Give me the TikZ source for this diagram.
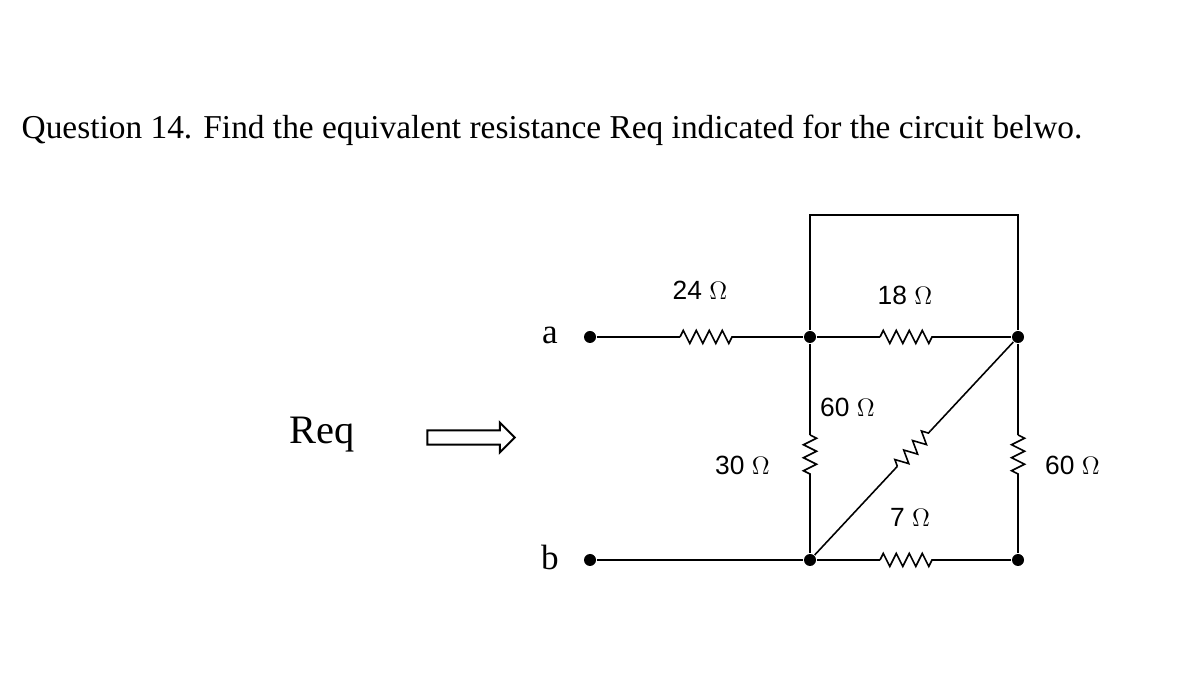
\documentclass[tikz,border=0pt]{standalone}
\usepackage{fontspec}
\setmainfont{Liberation Serif}
\newfontfamily\lblfont{Liberation Sans}
\usetikzlibrary{calc,decorations.pathmorphing,shapes.arrows}
\begin{document}
\begin{tikzpicture}[line width=0.9pt,
    dot/.style={circle, fill=black, inner sep=0pt, minimum size=2.4mm},
    res/.style={decorate, decoration={zigzag, segment length=2.6mm, amplitude=1.3mm}},
    lbl/.style={font=\lblfont\fontsize{15}{15}\selectfont}]
    \useasboundingbox (0,0) rectangle (24.04,14);

    % Title
    \node[anchor=west, font=\fontsize{19}{22}\selectfont] (title) at (0.3,11.4)
        {Question 14. Find the equivalent resistance Req indicated for the circuit belwo.};

    % Req and arrow
    \node[font=\fontsize{23}{26}\selectfont] (req) at (6.45,5.3) {Req};
    \node[single arrow, draw, line width=1.1pt, minimum width=6mm, single arrow head extend=0.8mm,
        minimum height=1.75cm, inner sep=1.5pt] (arr) at (9.35,5.25) {};

    % Terminals and junctions
    \node[dot] (a) at (11.8,7.26) {};
    \node[dot] (b) at (11.8,2.8) {};
    \node[dot] (n1) at (16.2,7.26) {};
    \node[dot] (n2) at (20.36,7.26) {};
    \node[dot] (n3) at (16.2,2.8) {};
    \node[dot] (n4) at (20.36,2.8) {};
    \node[font=\fontsize{20}{20}\selectfont] (la) at (11.0,7.3) {a};
    \node[font=\fontsize{20}{20}\selectfont] (lb) at (11.0,2.85) {b};

    % Resistor end points
    \coordinate (r1s) at (13.6,7.26);  \coordinate (r1e) at (14.7,7.26);
    \coordinate (r2s) at (17.6,7.26);  \coordinate (r2e) at (18.7,7.26);
    \coordinate (r3s) at (16.2,5.3);   \coordinate (r3e) at (16.2,4.4);
    \coordinate (r4s) at (20.36,5.3);  \coordinate (r4e) at (20.36,4.4);
    \coordinate (r5s) at (17.6,2.8);   \coordinate (r5e) at (18.7,2.8);
    \coordinate (r6s) at ($(n3)!0.42!(n2)$);
    \coordinate (r6e) at ($(n3)!0.58!(n2)$);
    \coordinate (t1) at (16.2,9.7);   \coordinate (t2) at (20.36,9.7);

    % Wires
    \draw (a) -- (r1s);  \draw[res] (r1s) -- (r1e);  \draw (r1e) -- (n1);
    \draw (n1) -- (r2s); \draw[res] (r2s) -- (r2e);  \draw (r2e) -- (n2);
    \draw (n1) -- (t1) -- (t2) -- (n2);
    \draw (n1) -- (r3s); \draw[res] (r3s) -- (r3e);  \draw (r3e) -- (n3);
    \draw (n2) -- (r4s); \draw[res] (r4s) -- (r4e);  \draw (r4e) -- (n4);
    \draw (b) -- (n3);
    \draw (n3) -- (r5s); \draw[res] (r5s) -- (r5e);  \draw (r5e) -- (n4);
    \draw (n3) -- (r6s); \draw[res] (r6s) -- (r6e);  \draw (r6e) -- (n2);

    % Labels
    \node[lbl] (l24) at (14.0,8.2) {24 $\Omega$};
    \node[lbl] (l18) at (18.1,8.1) {18 $\Omega$};
    \node[lbl] (l30) at (14.85,4.7) {30 $\Omega$};
    \node[lbl] (l60a) at (16.95,5.85) {60 $\Omega$};
    \node[lbl] (l60b) at (21.45,4.7) {60 $\Omega$};
    \node[lbl] (l7) at (18.2,3.65) {7 $\Omega$};
\end{tikzpicture}
\end{document}
